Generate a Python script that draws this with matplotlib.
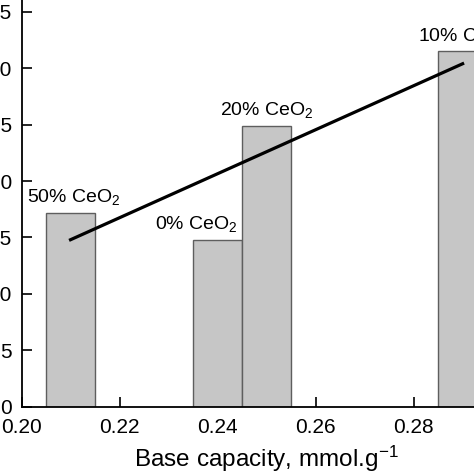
import numpy as np
import matplotlib
matplotlib.use("Agg")
import matplotlib.pyplot as plt

# base capacity (mmol/g) and the value of each catalyst
capacity = [0.21, 0.24, 0.25, 0.29]
values = [17.2, 14.8, 24.9, 31.5]
labels = ["50% CeO$_2$", "0% CeO$_2$", "20% CeO$_2$", "10% CeO$_2$"]
label_x = [0.2106, 0.2357, 0.2500, 0.2905]

# trend line
fit_x = [0.21, 0.29]
fit_y = [14.8, 30.4]

plt.rcParams['font.family'] = ['Liberation Sans', 'DejaVu Sans']
plt.rcParams['mathtext.fontset'] = 'custom'
plt.rcParams['mathtext.rm'] = 'Liberation Sans'
plt.rcParams['mathtext.it'] = 'Liberation Sans:italic'

fig = plt.figure(figsize=(4.74, 4.74), dpi=100)
ax = fig.add_axes([0.0454, 0.142, 1.034, 0.952])

ax.bar(capacity, values, width=0.01, color='#c6c6c6', edgecolor='#5e5e5e',
       linewidth=1.0, zorder=2)
ax.plot(fit_x, fit_y, color='black', linewidth=2.3, zorder=3)

for x, v, t in zip(label_x, values, labels):
    ax.text(x, v + 0.5, t, ha='center', va='bottom', fontsize=14)

ax.set_xlim(0.20, 0.30)
ax.set_ylim(0, 40)
ax.set_xticks([0.20, 0.22, 0.24, 0.26, 0.28, 0.30])
ax.set_xticklabels(['0.20', '0.22', '0.24', '0.26', '0.28', '0.30'])
ax.set_yticks(np.arange(0, 41, 5))
ax.tick_params(direction='in', length=7, width=1.2, labelsize=15, pad=8)
ax.tick_params(axis='y', pad=7)
for s in ax.spines.values():
    s.set_linewidth(1.3)

ax.set_xlabel('Base capacity, mmol.g$^{-1}$', fontsize=17.5, labelpad=5)

fig.savefig('out.png', dpi=100)
